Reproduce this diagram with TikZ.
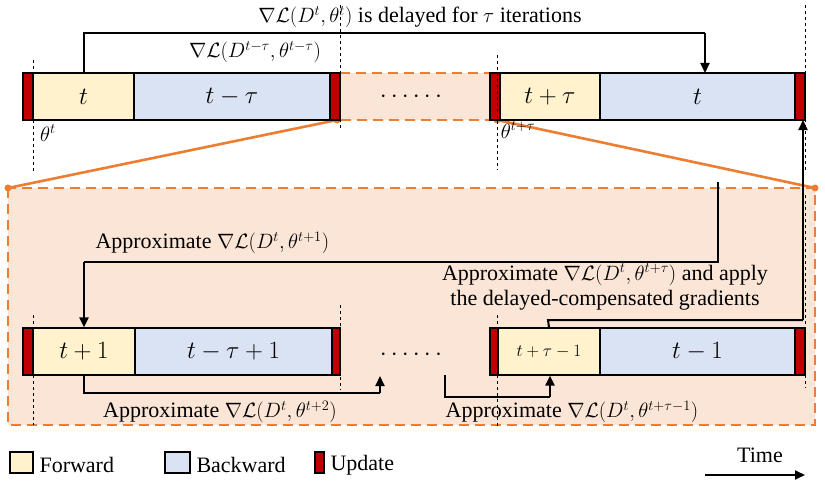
\documentclass[tikz,border=0pt]{standalone}
\usepackage{amsmath}
\usepackage{fontspec}
\setmainfont{Liberation Serif}
\usetikzlibrary{arrows.meta}
\definecolor{fw}{HTML}{FFF2CC}\definecolor{bw}{HTML}{DAE3F3}
\definecolor{up}{HTML}{C00000}\definecolor{og}{HTML}{ED7D31}\definecolor{ofill}{HTML}{FBE5D6}
\begin{document}
\begin{tikzpicture}[x=1pt,y=-1pt,
 fwd/.style={draw=black,fill=fw,line width=1.2pt},
 bwd/.style={draw=black,fill=bw,line width=1.2pt},
 upd/.style={draw=black,fill=up,line width=1.2pt},
 vd/.style={dashed,line width=0.8pt},
 ar/.style={line width=2pt,-{Triangle[length=10pt,width=9pt]}},
 ln/.style={line width=2pt},
 big/.style={font=\fontsize{35}{37}\selectfont},
 lab/.style={font=\fontsize{22}{25}\selectfont}]
\useasboundingbox (0,0) rectangle (825,487);
% orange zoom box
\draw[og,line width=2.6pt,dash pattern=on 10pt off 6pt,fill=ofill] (8,188) rectangle (815,425);
\draw[og,line width=2.6pt,dash pattern=on 10pt off 6pt,fill=ofill] (340,73) rectangle (490,120);
\draw[og,line width=2.6pt] (337,120) -- (8,188);
\draw[og,line width=2.6pt] (497,120) -- (815,188);
\fill[og] (8,188) circle (3.5) (815,188) circle (3.5) (337,120) circle (3.5) (497,120) circle (3.5);
% top row
\node[upd,minimum width=10,minimum height=47,inner sep=0] (u1) at (28,96.5) {};
\node[fwd,minimum width=101,minimum height=47,inner sep=0,big] (a1) at (83.5,96.5) {$t$};
\node[bwd,minimum width=196,minimum height=47,inner sep=0,big] (b1) at (232,96.5) {$t-\tau$};
\node[upd,minimum width=10,minimum height=47,inner sep=0] (u2) at (335,96.5) {};
\node[big] (d1) at (413,97) {$\cdots\cdots$};
\node[upd,minimum width=10,minimum height=47,inner sep=0] (u3) at (495,96.5) {};
\node[fwd,minimum width=100,minimum height=47,inner sep=0,big] (a2) at (550,96.5) {$t+\tau$};
\node[bwd,minimum width=195,minimum height=47,inner sep=0,big] (b2) at (697.5,96.5) {$t$};
\node[upd,minimum width=10,minimum height=47,inner sep=0] (u4) at (800,96.5) {};
\draw[vd] (33,60) -- (33,173); \draw[vd] (340,5) -- (340,130);
\draw[vd] (497,55) -- (497,170); \draw[vd] (805,5) -- (805,170);
\node[lab] (t1) at (420,17) {$\nabla\mathcal{L}(D^t,\theta^t)$ is delayed for $\tau$ iterations};
\node[lab] (t2) at (255,52) {$\nabla\mathcal{L}(D^{t-\tau},\theta^{t-\tau})$};
\node[lab] (th1) at (48,133) {$\theta^t$};
\node[lab] (th2) at (518,130) {$\theta^{t+\tau}$};
\coordinate (s1) at (84,73);
\coordinate (e1) at (705,73);
\draw[ln] (s1) -- (84,33) -- (705,33) coordinate (c1);
\draw[ar] (c1) -- (e1);
% bottom row
\node[upd,minimum width=10,minimum height=47,inner sep=0] (u5) at (28,351.5) {};
\node[fwd,minimum width=102,minimum height=47,inner sep=0,big] (a3) at (84,351.5) {$t+1$};
\node[bwd,minimum width=197,minimum height=47,inner sep=0,big] (b3) at (233.5,351.5) {$t-\tau+1$};
\node[upd,minimum width=8,minimum height=47,inner sep=0] (u6) at (336,351.5) {};
\node[big] (d2) at (413,355) {$\cdots\cdots$};
\node[upd,minimum width=8,minimum height=47,inner sep=0] (u7) at (494,351.5) {};
\node[fwd,minimum width=102,minimum height=47,inner sep=0,font=\fontsize{19}{21}\selectfont] (a4) at (549,351.5) {$t+\tau-1$};
\node[bwd,minimum width=195,minimum height=47,inner sep=0,big] (b4) at (697.5,351.5) {$t-1$};
\node[upd,minimum width=10,minimum height=47,inner sep=0] (u8) at (800,351.5) {};
\draw[vd] (33,315) -- (33,425); \draw[vd] (340,305) -- (340,390);
\draw[vd] (497,315) -- (497,428); \draw[vd] (805,195) -- (805,388);
% arrows
\coordinate (s2) at (718,182);
\draw[ln] (s2) -- (718,262) -- (84,262) coordinate (c2);
\draw[ar] (c2) -- (a3.north);
\node[lab,anchor=west] (l1) at (92,243) {Approximate $\nabla\mathcal{L}(D^t,\theta^{t+1})$};
\coordinate (c3) at (548,320);
\draw[ln] (a4.north) -- (c3) -- (803,320) coordinate (c4);
\draw[ar] (c4) -- (803,120);
\node[lab,align=center] (l2) at (605,287) {Approximate $\nabla\mathcal{L}(D^t,\theta^{t+\tau})$ and apply\\the delayed-compensated gradients};
\coordinate (c5) at (380,393);
\draw[ln] (a3.south) -- (84,393) -- (c5);
\draw[ar] (c5) -- (380,376);
\node[lab] (l3) at (220,412) {Approximate $\nabla\mathcal{L}(D^t,\theta^{t+2})$};
\coordinate (c6) at (445,397);
\draw[ln] (445,375) -- (c6) -- (550,397) coordinate (c7);
\draw[ar] (c7) -- (a4.south -| c7);
\node[lab] (l4) at (572,412) {Approximate $\nabla\mathcal{L}(D^t,\theta^{t+\tau-1})$};
% legend
\node[fwd,minimum width=23,minimum height=21,inner sep=0] (lf) at (21.5,462.5) {};
\node[lab,anchor=west] at (36,465) {Forward};
\node[bwd,minimum width=25,minimum height=21,inner sep=0] (lb) at (177.5,462.5) {};
\node[lab,anchor=west] at (193,465) {Backward};
\node[upd,minimum width=9,minimum height=21,inner sep=0] (lu) at (319.5,462.5) {};
\node[lab,anchor=west] at (327,465) {Update};
\coordinate (tm1) at (705,475); \coordinate (tm2) at (805,475);
\draw[ar] (tm1) -- (tm2);
\node[lab] (tm) at (760,455) {Time};
\end{tikzpicture}
\end{document}
